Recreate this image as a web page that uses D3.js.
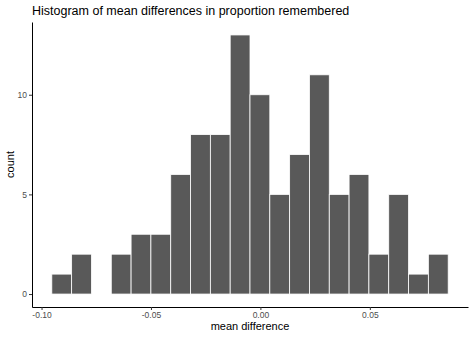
<!DOCTYPE html>
<html>
<head>
<meta charset="utf-8">
<script src="https://cdn.jsdelivr.net/npm/d3@7"></script>
<style>
  html, body { margin: 0; padding: 0; background: #fff; }
  svg { display: block; font-family: "Liberation Sans", Arial, Helvetica, sans-serif; }
</style>
</head>
<body>
<svg id="chart" width="474" height="338"></svg>
<script>
// Histogram bins: lower edge of the first bin, bin width, and count per bin
const binStart = -0.0953;
const binWidth = 0.009055;
const counts = [1, 2, 0, 2, 3, 3, 6, 8, 8, 13, 10, 5, 7, 11, 5, 6, 2, 5, 1, 2];
const xTicks = [-0.10, -0.05, 0.00, 0.05];
const xTickLabels = ["-0.10", "-0.05", "0.00", "0.05"];
const yTicks = [0, 5, 10];

const titleText = "Histogram of mean differences in proportion remembered";
const xTitle = "mean difference";
const yTitle = "count";

const bins = counts.map((c, i) => ({
  x0: binStart + i * binWidth,
  x1: binStart + (i + 1) * binWidth,
  count: c
}));

const W = 474, H = 338;
const margin = { top: 22, right: 6, bottom: 31, left: 32 };
const svg = d3.select("#chart");

// ggplot-style 5% expansion on both axes
const xMin = bins[0].x0, xMax = bins[bins.length - 1].x1;
const xPad = (xMax - xMin) * 0.05;
const yMax = d3.max(counts);
const yPad = yMax * 0.05;

const x = d3.scaleLinear()
  .domain([xMin - xPad, xMax + xPad])
  .range([margin.left, W - margin.right]);
const y = d3.scaleLinear()
  .domain([-yPad, yMax + yPad])
  .range([H - margin.bottom, margin.top]);

// Bars
svg.append("g")
  .selectAll("rect")
  .data(bins.filter(d => d.count > 0))
  .join("rect")
  .attr("x", d => x(d.x0))
  .attr("width", d => x(d.x1) - x(d.x0))
  .attr("y", d => y(d.count))
  .attr("height", d => y(0) - y(d.count))
  .attr("fill", "#595959")
  .attr("stroke", "#ffffff")
  .attr("stroke-width", 0.8);

// Axes
const xAxis = d3.axisBottom(x)
  .tickValues(xTicks)
  .tickFormat((d, i) => xTickLabels[i])
  .tickSizeInner(3)
  .tickSizeOuter(0)
  .tickPadding(2);
const yAxis = d3.axisLeft(y)
  .tickValues(yTicks)
  .tickFormat(d3.format("d"))
  .tickSizeInner(3)
  .tickSizeOuter(0)
  .tickPadding(2);

const gx = svg.append("g")
  .attr("transform", `translate(0,${H - margin.bottom})`)
  .call(xAxis);
const gy = svg.append("g")
  .attr("transform", `translate(${margin.left},0)`)
  .call(yAxis);

[gx, gy].forEach(g => {
  g.select(".domain").attr("stroke", "#000").attr("stroke-width", 1);
  g.selectAll(".tick line").attr("stroke", "#333").attr("stroke-width", 1);
  g.selectAll(".tick text")
    .attr("fill", "#4d4d4d")
    .attr("font-size", 8.5)
    .attr("font-family", "Liberation Sans, Arial, sans-serif");
});

// Titles
svg.append("text")
  .attr("x", margin.left)
  .attr("y", 15)
  .attr("font-size", 12.5)
  .attr("fill", "#000")
  .text(titleText);

svg.append("text")
  .attr("x", (x.range()[0] + x.range()[1]) / 2)
  .attr("y", 330)
  .attr("text-anchor", "middle")
  .attr("font-size", 11)
  .attr("fill", "#000")
  .text(xTitle);

svg.append("text")
  .attr("transform", `translate(14,${(y.range()[0] + y.range()[1]) / 2}) rotate(-90)`)
  .attr("text-anchor", "middle")
  .attr("font-size", 11)
  .attr("fill", "#000")
  .text(yTitle);
</script>
</body>
</html>
